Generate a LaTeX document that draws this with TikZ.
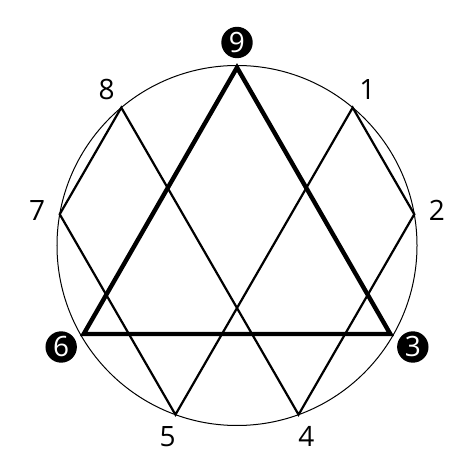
\documentclass[tikz,border=0pt]{standalone}
\usepackage{fontspec}
\setmainfont{Open Sans}
\usepackage{tikz}

\begin{document}
\begin{tikzpicture}[x=0.5pt, y=0.5pt,
    num/.style={font=\fontsize{14}{16}\selectfont, inner sep=0pt},
    keynum/.style={num, circle, fill=black, text=white, minimum size=15.7pt},
    hexad/.style={line width=1.1pt, line join=miter},
    triad/.style={line width=2.2pt, line join=miter}]
    \useasboundingbox (-237,-228.5) rectangle (237,245.5);
    \draw[line width=0.5pt] (0,0) circle (180);
    % points on the circle
    \coordinate (p9) at (90:178);
    \coordinate (p1) at (50:180);
    \coordinate (p2) at (10:180);
    \coordinate (p3) at (-30:177);
    \coordinate (p4) at (-70:180);
    \coordinate (p5) at (-110:180);
    \coordinate (p6) at (-150:177);
    \coordinate (p7) at (170:180);
    \coordinate (p8) at (130:180);
    % labels
    \node[keynum] (l9) at (90:203) {9};
    \node[num] (l1) at (50:203) {1};
    \node[num] (l2) at (10:203) {2};
    \node[keynum] (l3) at (-30:203) {3};
    \node[num] (l4) at (-70:203) {4};
    \node[num] (l5) at (-110:203) {5};
    \node[keynum] (l6) at (-150:203) {6};
    \node[num] (l7) at (170:203) {7};
    \node[num] (l8) at (130:203) {8};
    % lines
    \draw[hexad] (p1) -- (p2) -- (p4) -- (p8) -- (p7) -- (p5) -- cycle;
    \draw[triad] (p9) -- (p3) -- (p6) -- cycle;
\end{tikzpicture}
\end{document}
